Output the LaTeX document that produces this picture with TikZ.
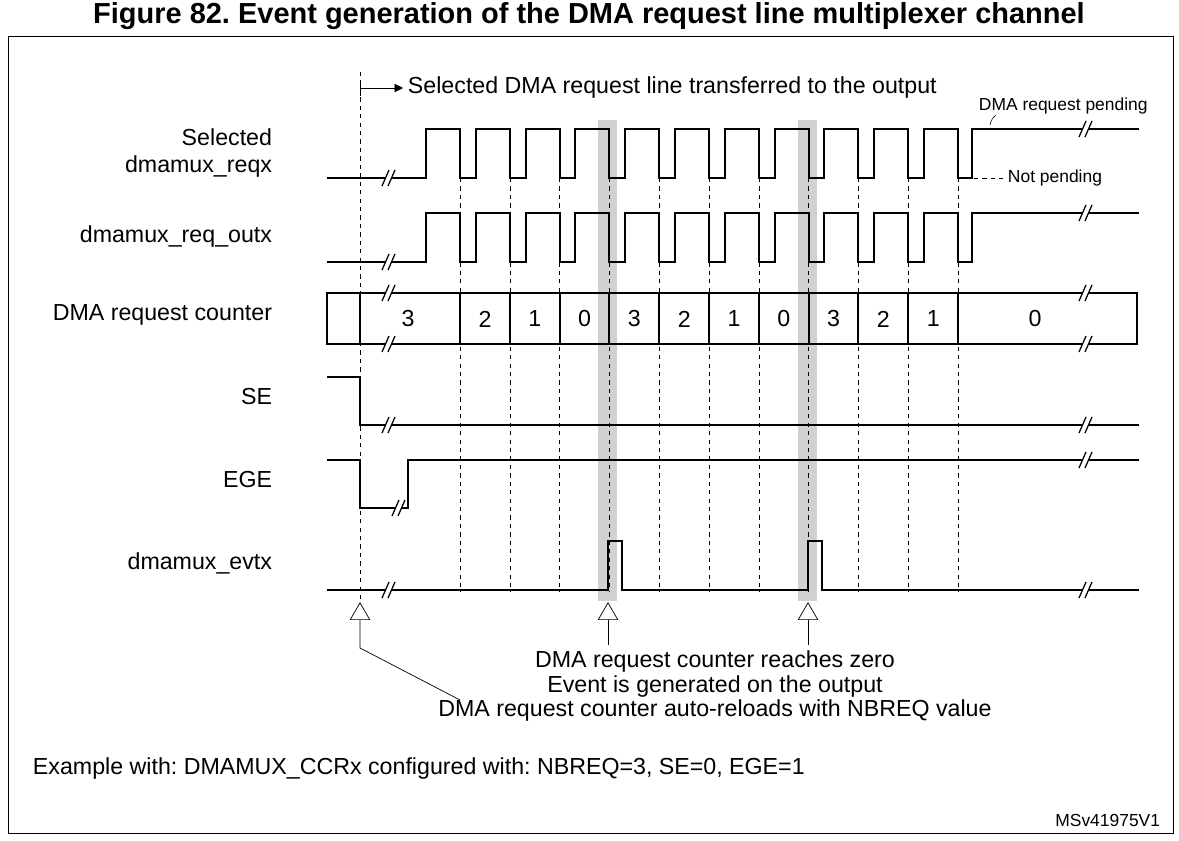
\documentclass[tikz,border=0pt]{standalone}
\usepackage{fontspec}
\setmainfont{Liberation Sans}
\usetikzlibrary{arrows.meta, positioning, calc, shapes.geometric}
\frenchspacing

\begin{document}
\begin{tikzpicture}[
    x=0.025cm, y=-0.025cm,
    sig/.style={line width=1.3pt, line join=miter},
    grid/.style={dashed, line width=0.4pt},
    lbl/.style={anchor=east, align=right, font=\fontsize{16.5}{19}\selectfont},
    txt/.style={font=\fontsize{16.5}{17.5}\selectfont},
    small/.style={font=\fontsize{12.4}{14}\selectfont},
    shade/.style={fill=black!18, draw=none},
    evmark/.style={draw=black, fill=white, isosceles triangle, shape border rotate=90,
                 isosceles triangle apex angle=60, minimum height=12pt,
                 inner sep=0pt, line width=0.5pt},
  ]
  \useasboundingbox (0,0) rectangle (1179,841);
  \node[font=\bfseries\fontsize{20.6}{23}\selectfont] (title) at (589,16)
    {Figure 82. Event generation of the DMA request line multiplexer channel};
  \draw[line width=0.6pt] (8,36) rectangle (1173,833);

  % highlighted event slots
  \fill[shade] (598,120) rectangle (617,601);
  \fill[shade] (798,120) rectangle (817,601);

  % dashed time markers
  \draw[grid] (360,72) -- (360,612);
  \foreach \k in {0,...,10}
    \draw[grid] ({460+49.8*\k},178) -- ({460+49.8*\k},592);

  % signal names
  \node[lbl] (reqx) at (277,153) {Selected\\dmamux\_reqx};
  \node[lbl] (outx) at (277,237) {dmamux\_req\_outx};
  \node[lbl] (cnt) at (277,315) {DMA request counter};
  \node[lbl] (se) at (277,397) {SE};
  \node[lbl] (ege) at (277,480) {EGE};
  \node[lbl] (evt) at (277,563) {dmamux\_evtx};

  % request waveforms
  \draw[sig] (327,178) foreach \k in {0,...,10} {
      -- ({426+49.8*\k},178) -- ({426+49.8*\k},129)
      -- ({460+49.8*\k},129) -- ({460+49.8*\k},178) }
    -- (972,178) -- (972,129) -- (1139,129);
  \draw[sig] (327,262) foreach \k in {0,...,10} {
      -- ({426+49.8*\k},262) -- ({426+49.8*\k},213)
      -- ({460+49.8*\k},213) -- ({460+49.8*\k},262) }
    -- (972,262) -- (972,213) -- (1139,213);

  % counter
  \draw[sig] (327,293) rectangle (1137,344);
  \draw[sig] (360,293) -- (360,344);
  \foreach \k in {0,...,10}
    \draw[sig] ({460+49.8*\k},293) -- ({460+49.8*\k},344);
  \node[txt] (c0) at (408,319) {3};
  \foreach \v [count=\i from 0] in {2,1,0,3,2,1,0,3,2,1}
    \node[txt] at ({485+49.8*\i},319) {\v};
  \node[txt] (cend) at (1035,319) {0};

  % control signals
  \draw[sig] (327,377) -- (360,377) -- (360,425) -- (1139,425);
  \draw[sig] (327,460) -- (360,460) -- (360,508) -- (408,508) -- (408,460) -- (1139,460);
  \draw[sig] (327,590) -- (608,590) -- (608,541) -- (622,541) -- (622,590)
    -- (808,590) -- (808,541) -- (822,541) -- (822,590) -- (1139,590);

  % break marks
  \foreach \x/\y in {390/178, 390/262, 390/293, 390/344, 390/425, 400/508, 390/590,
                     1087/129, 1087/213, 1087/293, 1087/344, 1087/425, 1087/460, 1087/590}
  {
    \fill[white] (\x-8,\y+8) -- (\x-1,\y-8) -- (\x+5,\y-8) -- (\x-2,\y+8) -- cycle;
    \draw[line width=0.9pt] (\x-8,\y+8) -- (\x-1,\y-8) (\x-2,\y+8) -- (\x+5,\y-8);
  }

  % annotations
  \coordinate (start) at (360,88);
  \node[txt, anchor=west] (sel) at (403,88) {Selected DMA request line transferred to the output};
  \draw[line width=0.6pt, -{Triangle[length=6pt,width=6pt]}] (start) -- (sel.west);
  \draw[line width=0.6pt] (360,80) -- (360,96);
  \node[small, anchor=west] (pend) at (974,106) {DMA request pending};
  \draw[line width=0.4pt] (990,125) to[bend left=20] (996,115);
  \node[small, anchor=west] (npend) at (1003,178) {Not pending};
  \draw[dashed, line width=0.4pt] (974,178) -- (npend.west);

  \node[evmark] (m0) at (360,614) {};
  \node[evmark] (m1) at (608,614) {};
  \node[evmark] (m2) at (808,614) {};
  \draw[line width=0.5pt] (m0.south) -- (360,648) -- (460,700);
  \draw[line width=0.5pt] (m1.south) -- (608,645);
  \draw[line width=0.5pt] (m2.south) -- (808,645);
  \node[txt, align=center] (note) at (715,686)
    {DMA request counter reaches zero\\Event is generated on the output\\DMA request counter auto-reloads with NBREQ value};

  \node[txt, anchor=west] (ex) at (28,768)
    {Example with: DMAMUX\_CCRx configured with: NBREQ=3, SE=0, EGE=1};
  \node[small, anchor=east] (ref) at (1165,820) {MSv41975V1};
\end{tikzpicture}
\end{document}
